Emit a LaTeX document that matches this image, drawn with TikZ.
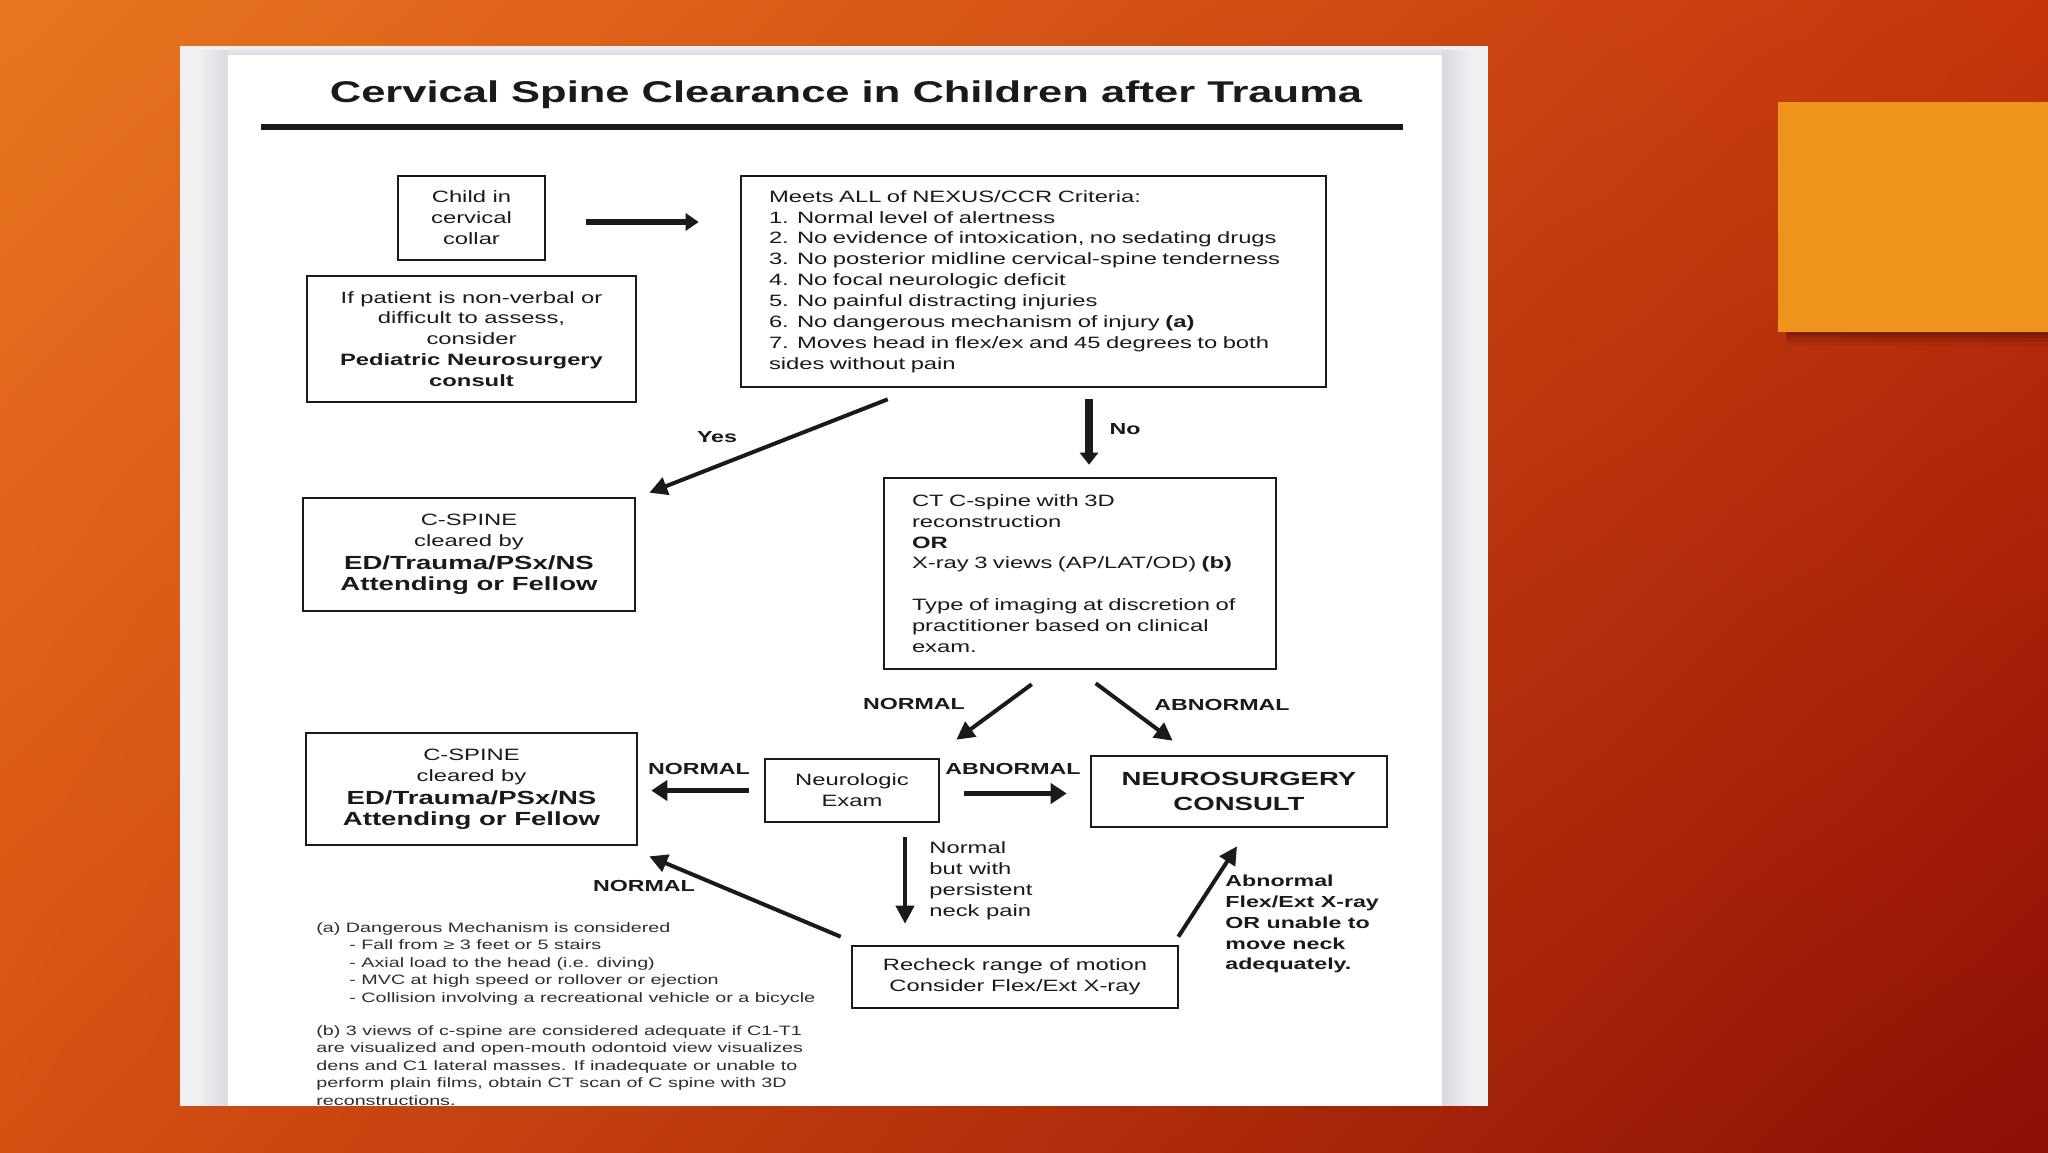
\documentclass[tikz,border=0pt]{standalone}
\usepackage{fontspec}
\setmainfont[FakeStretch=1.45]{Liberation Sans}
\usetikzlibrary{arrows.meta,shadings}
\definecolor{ink}{HTML}{1A1A1A}
\definecolor{fnink}{HTML}{2E2E2E}
\definecolor{bgUL}{RGB}{232,118,32}
\definecolor{bgUR}{RGB}{196,52,12}
\definecolor{bgLL}{RGB}{214,80,18}
\definecolor{bgLR}{RGB}{140,14,5}
\definecolor{tile}{RGB}{238,148,28}
\definecolor{frame}{HTML}{F1F1F4}
\definecolor{frameshade}{HTML}{D8D8DE}
\newcommand{\bigtxt}{\fontsize{9.5}{12.4}\selectfont\bfseries}
\begin{document}
\begin{tikzpicture}[x=0.5pt,y=-0.5pt,
  box/.style={draw=ink, line width=1.3pt, fill=white, inner sep=0pt, text=ink,
              font=\fontsize{8.2}{10.45}\selectfont},
  bigb/.style={font=\bigtxt},
  lbl/.style={inner sep=0pt, text=ink, font=\fontsize{8}{10.45}\selectfont\bfseries},
  note/.style={inner sep=0pt, text=ink, font=\fontsize{8.2}{10.45}\selectfont},
  fnote/.style={inner sep=0pt, text=fnink, align=left, anchor=north west,
              font=\fontsize{6.8}{8.75}\selectfont},
  arr/.style={draw=ink, line width=2pt, -{Triangle[length=9pt,width=9pt]}},
  harr/.style={draw=ink, line width=2.6pt, -{Triangle[length=8pt,width=10pt]}},
  thickarr/.style={draw=ink, line width=3.3pt, -{Triangle[length=6.5pt,width=8.5pt]}},
  noarr/.style={draw=ink, line width=4pt, -{Triangle[length=6pt,width=9pt]}}
]
\useasboundingbox (0,0) rectangle (2048,1152);
% background
\shade[upper left=bgUL, upper right=bgUR, lower left=bgLL, lower right=bgLR]
  (0,0) rectangle (2048,1152);
% orange tile with shadow
\foreach \k/\o in {14/0.05,10/0.08,6/0.10,3/0.12}{
  \fill[black, opacity=\o] (1786,110+\k) rectangle (2048,332+\k);
}
\fill[tile] (1778,102) rectangle (2048,332);

% page
\begin{scope}
\clip (0,0) rectangle (2048,1105);
\fill[frame] (180,46) rectangle (1488,1120);
\shade[left color=frame, right color=frameshade] (198,50) rectangle (228,1120);
\shade[left color=frameshade, right color=frame] (1442,50) rectangle (1472,1120);
\shade[top color=frame, bottom color=frameshade] (228,46) rectangle (1442,55);
\fill[white] (228,55) rectangle (1442,1120);

% title
\node[inner sep=0pt, text=ink, font=\fontsize{15}{18}\selectfont\bfseries] (title) at (846,95)
  {Cervical Spine Clearance in Children after Trauma};
\draw[ink, line width=2.6pt] (261,127) -- (1403,127);

% boxes
\node[box, minimum width=73.5pt, minimum height=42pt, align=center] (child) at (471.5,218)
  {Child in\\cervical\\collar};
\node[box, minimum width=164.5pt, minimum height=63pt, align=center] (nonverbal) at (471.5,339)
  {If patient is non-verbal or\\difficult to assess,\\consider\\\textbf{Pediatric Neurosurgery}\\\textbf{consult}};
\node[box, minimum width=292.5pt, minimum height=105.5pt, text width=264.5pt, align=left] (nexus) at (1033.5,281.5)
  {Meets ALL of NEXUS/CCR Criteria:\\
   1. Normal level of alertness\\
   2. No evidence of intoxication, no sedating drugs\\
   3. No posterior midline cervical-spine tenderness\\
   4. No focal neurologic deficit\\
   5. No painful distracting injuries\\
   6. No dangerous mechanism of injury \textbf{(a)}\\
   7. Moves head in flex/ex and 45 degrees to both\\
   sides without pain};
\node[box, minimum width=166pt, minimum height=56.5pt, align=center] (cs1) at (469,554.5)
  {C-SPINE\\cleared by\\[1pt]{\bigtxt ED/Trauma/PSx/NS}\\{\bigtxt Attending or Fellow}};
\node[box, minimum width=196pt, minimum height=95.5pt, text width=168pt, align=left] (ct) at (1080,573.5)
  {CT C-spine with 3D\\reconstruction\\\textbf{OR}\\X-ray 3 views (AP/LAT/OD) \textbf{(b)}\\[10.45pt]
   Type of imaging at discretion of\\practitioner based on clinical\\exam.};
\node[box, minimum width=165.5pt, minimum height=56pt, align=center] (cs2) at (471.5,789)
  {C-SPINE\\cleared by\\[1pt]{\bigtxt ED/Trauma/PSx/NS}\\{\bigtxt Attending or Fellow}};
\node[box, minimum width=87pt, minimum height=31.5pt, align=center] (neuro) at (852,790.5)
  {Neurologic\\Exam};
\node[box, bigb, minimum width=148pt, minimum height=35.5pt, align=center] (nsc) at (1239,791.5)
  {NEUROSURGERY\\CONSULT};
\node[box, minimum width=163pt, minimum height=31pt, align=center] (recheck) at (1015,977)
  {Recheck range of motion\\Consider Flex/Ext X-ray};

% connectors
\draw[thickarr, shorten <=20pt, shorten >=20.5pt] ([yshift=-2pt]child.east) -- ([yshift=-2pt]child.east -| nexus.west);
\draw[arr] ([xshift=74pt,yshift=-5.5pt]nexus.south west) -- ([xshift=6.5pt,yshift=2pt]cs1.north east);
\draw[noarr, shorten <=5.5pt, shorten >=6pt] ([xshift=27.75pt]nexus.south) -- ([xshift=27.75pt]nexus.south |- ct.north);
\draw[arr] ([xshift=74.5pt,yshift=-7pt]ct.south west) -- ([xshift=8pt,yshift=9pt]neuro.north east);
\draw[arr] ([xshift=106.5pt,yshift=-6.5pt]ct.south west) -- ([xshift=41.5pt,yshift=7pt]nsc.north west);
\draw[harr, shorten <=7.5pt, shorten >=6.5pt] (neuro.west) -- (neuro.west -| cs2.east);
\draw[harr, shorten <=12pt, shorten >=11.5pt] ([yshift=-1.5pt]neuro.east) -- ([yshift=-1.5pt]neuro.east -| nsc.west);
\draw[arr, shorten <=7pt, shorten >=10.5pt] ([xshift=26.5pt]neuro.south) -- ([xshift=26.5pt]neuro.south |- recheck.north);
\draw[arr] ([xshift=-5pt,yshift=4pt]recheck.north west) -- ([xshift=5.5pt,yshift=-5pt]cs2.south east);
\draw[arr] ([xshift=-0.5pt,yshift=4pt]recheck.north east) -- ([xshift=-1pt,yshift=-9pt]nsc.south);

% labels
\node[lbl] (lyes) at (717,437) {Yes};
\node[lbl] (lno) at (1125,429) {No};
\node[lbl] (ln1) at (914,704) {NORMAL};
\node[lbl] (la1) at (1222,705) {ABNORMAL};
\node[lbl] (ln2) at (699,769) {NORMAL};
\node[lbl] (la2) at (1013,769) {ABNORMAL};
\node[lbl] (ln3) at (644,886) {NORMAL};
\node[note, anchor=west, align=left] (lpers) at (929,881)
  {Normal\\but with\\persistent\\neck pain};
\node[lbl, anchor=west, align=left] (lflex) at (1225,924)
  {Abnormal\\Flex/Ext X-ray\\OR unable to\\move neck\\adequately.};

% footnotes
\node[fnote] (fna) at (316,922)
  {(a) Dangerous Mechanism is considered\\
   \hspace*{16.5pt}- Fall from ≥ 3 feet or 5 stairs\\
   \hspace*{16.5pt}- Axial load to the head (i.e. diving)\\
   \hspace*{16.5pt}- MVC at high speed or rollover or ejection\\
   \hspace*{16.5pt}- Collision involving a recreational vehicle or a bicycle};
\node[fnote] (fnb) at (316,1025)
  {(b) 3 views of c-spine are considered adequate if C1-T1\\
   are visualized and open-mouth odontoid view visualizes\\
   dens and C1 lateral masses. If inadequate or unable to\\
   perform plain films, obtain CT scan of C spine with 3D\\
   reconstructions.};
\end{scope}
\end{tikzpicture}
\end{document}
